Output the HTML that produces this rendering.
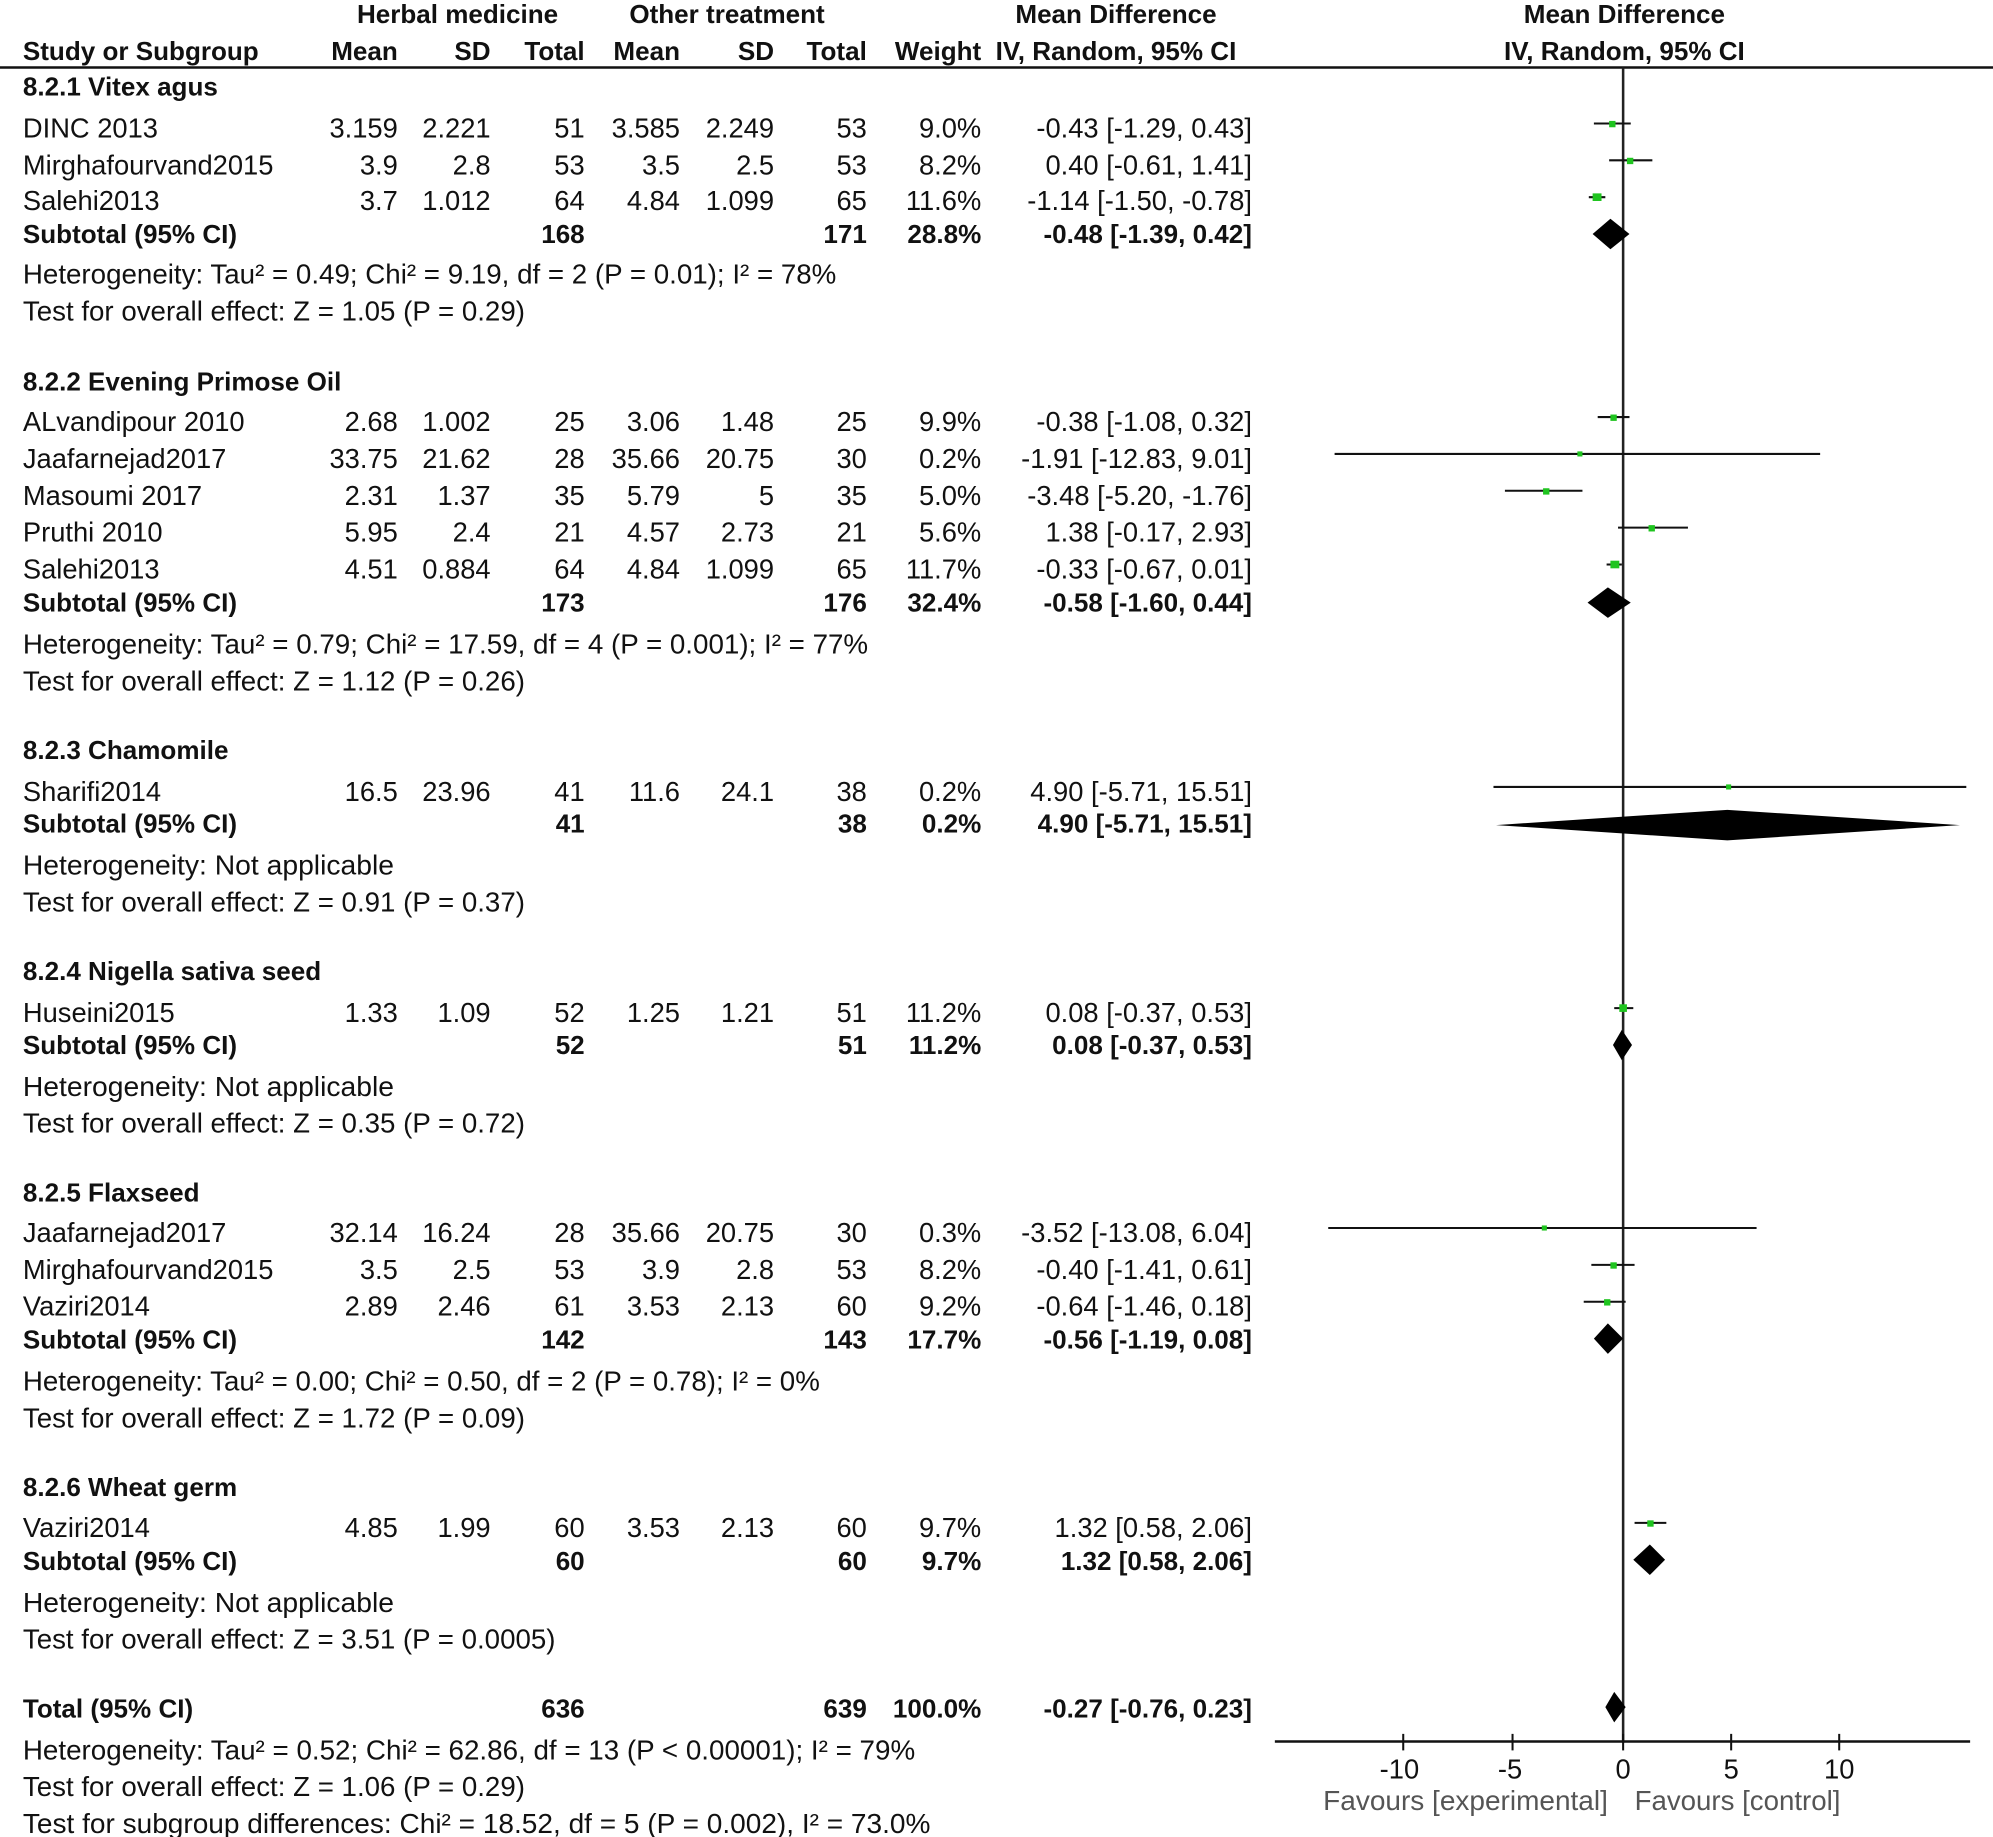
<!DOCTYPE html>
<html><head><meta charset="utf-8"><style>
html,body{margin:0;padding:0;background:#fff}
svg{display:block}
text{font-family:"Liberation Sans",Arial,sans-serif;font-size:21.5px;fill:#111}
.r{text-anchor:end}.c{text-anchor:middle}.b,.b text{font-weight:bold;font-size:20.5px}
.g{fill:#555}
</style></head><body>
<svg width="1993" height="1837" viewBox="0 0 1568 1445" xmlns="http://www.w3.org/2000/svg">
<rect width="1568" height="1445" fill="#fff"/>
<g class="b">
<text x="360" y="18" class="c">Herbal medicine</text>
<text x="572" y="18" class="c">Other treatment</text>
<text x="878" y="18" class="c">Mean Difference</text>
<text x="1278" y="18" class="c">Mean Difference</text>
<text x="18" y="47">Study or Subgroup</text>
<text x="313" y="47" class="r">Mean</text>
<text x="386" y="47" class="r">SD</text>
<text x="460" y="47" class="r">Total</text>
<text x="535" y="47" class="r">Mean</text>
<text x="609" y="47" class="r">SD</text>
<text x="682" y="47" class="r">Total</text>
<text x="772" y="47" class="r">Weight</text>
<text x="878" y="47" class="c">IV, Random, 95% CI</text>
<text x="1278" y="47" class="c">IV, Random, 95% CI</text>
</g>
<line x1="0" y1="53" x2="1568" y2="53" stroke="#111" stroke-width="2"/>

<g>
<text x="18" y="75" class="b">8.2.1 Vitex agus</text>
<text x="18" y="108">DINC 2013</text><text x="313" y="108" class="r">3.159</text><text x="386" y="108" class="r">2.221</text><text x="460" y="108" class="r">51</text><text x="535" y="108" class="r">3.585</text><text x="609" y="108" class="r">2.249</text><text x="682" y="108" class="r">53</text><text x="772" y="108" class="r">9.0%</text><text x="985" y="108" class="r">-0.43 [-1.29, 0.43]</text>
<text x="18" y="137">Mirghafourvand2015</text><text x="313" y="137" class="r">3.9</text><text x="386" y="137" class="r">2.8</text><text x="460" y="137" class="r">53</text><text x="535" y="137" class="r">3.5</text><text x="609" y="137" class="r">2.5</text><text x="682" y="137" class="r">53</text><text x="772" y="137" class="r">8.2%</text><text x="985" y="137" class="r">0.40 [-0.61, 1.41]</text>
<text x="18" y="165">Salehi2013</text><text x="313" y="165" class="r">3.7</text><text x="386" y="165" class="r">1.012</text><text x="460" y="165" class="r">64</text><text x="535" y="165" class="r">4.84</text><text x="609" y="165" class="r">1.099</text><text x="682" y="165" class="r">65</text><text x="772" y="165" class="r">11.6%</text><text x="985" y="165" class="r">-1.14 [-1.50, -0.78]</text>
<g class="b"><text x="18" y="191">Subtotal (95% CI)</text><text x="460" y="191" class="r">168</text><text x="682" y="191" class="r">171</text><text x="772" y="191" class="r">28.8%</text><text x="985" y="191" class="r">-0.48 [-1.39, 0.42]</text></g>
<text x="18" y="223" textLength="640" lengthAdjust="spacingAndGlyphs">Heterogeneity: Tau² = 0.49; Chi² = 9.19, df = 2 (P = 0.01); I² = 78%</text>
<text x="18" y="252" textLength="395" lengthAdjust="spacingAndGlyphs">Test for overall effect: Z = 1.05 (P = 0.29)</text>

<text x="18" y="307" class="b">8.2.2 Evening Primose Oil</text>
<text x="18" y="339">ALvandipour 2010</text><text x="313" y="339" class="r">2.68</text><text x="386" y="339" class="r">1.002</text><text x="460" y="339" class="r">25</text><text x="535" y="339" class="r">3.06</text><text x="609" y="339" class="r">1.48</text><text x="682" y="339" class="r">25</text><text x="772" y="339" class="r">9.9%</text><text x="985" y="339" class="r">-0.38 [-1.08, 0.32]</text>
<text x="18" y="368">Jaafarnejad2017</text><text x="313" y="368" class="r">33.75</text><text x="386" y="368" class="r">21.62</text><text x="460" y="368" class="r">28</text><text x="535" y="368" class="r">35.66</text><text x="609" y="368" class="r">20.75</text><text x="682" y="368" class="r">30</text><text x="772" y="368" class="r">0.2%</text><text x="985" y="368" class="r">-1.91 [-12.83, 9.01]</text>
<text x="18" y="397">Masoumi 2017</text><text x="313" y="397" class="r">2.31</text><text x="386" y="397" class="r">1.37</text><text x="460" y="397" class="r">35</text><text x="535" y="397" class="r">5.79</text><text x="609" y="397" class="r">5</text><text x="682" y="397" class="r">35</text><text x="772" y="397" class="r">5.0%</text><text x="985" y="397" class="r">-3.48 [-5.20, -1.76]</text>
<text x="18" y="426">Pruthi 2010</text><text x="313" y="426" class="r">5.95</text><text x="386" y="426" class="r">2.4</text><text x="460" y="426" class="r">21</text><text x="535" y="426" class="r">4.57</text><text x="609" y="426" class="r">2.73</text><text x="682" y="426" class="r">21</text><text x="772" y="426" class="r">5.6%</text><text x="985" y="426" class="r">1.38 [-0.17, 2.93]</text>
<text x="18" y="455">Salehi2013</text><text x="313" y="455" class="r">4.51</text><text x="386" y="455" class="r">0.884</text><text x="460" y="455" class="r">64</text><text x="535" y="455" class="r">4.84</text><text x="609" y="455" class="r">1.099</text><text x="682" y="455" class="r">65</text><text x="772" y="455" class="r">11.7%</text><text x="985" y="455" class="r">-0.33 [-0.67, 0.01]</text>
<g class="b"><text x="18" y="481">Subtotal (95% CI)</text><text x="460" y="481" class="r">173</text><text x="682" y="481" class="r">176</text><text x="772" y="481" class="r">32.4%</text><text x="985" y="481" class="r">-0.58 [-1.60, 0.44]</text></g>
<text x="18" y="514" textLength="665" lengthAdjust="spacingAndGlyphs">Heterogeneity: Tau² = 0.79; Chi² = 17.59, df = 4 (P = 0.001); I² = 77%</text>
<text x="18" y="543" textLength="395" lengthAdjust="spacingAndGlyphs">Test for overall effect: Z = 1.12 (P = 0.26)</text>

<text x="18" y="597" class="b">8.2.3 Chamomile</text>
<text x="18" y="630">Sharifi2014</text><text x="313" y="630" class="r">16.5</text><text x="386" y="630" class="r">23.96</text><text x="460" y="630" class="r">41</text><text x="535" y="630" class="r">11.6</text><text x="609" y="630" class="r">24.1</text><text x="682" y="630" class="r">38</text><text x="772" y="630" class="r">0.2%</text><text x="985" y="630" class="r">4.90 [-5.71, 15.51]</text>
<g class="b"><text x="18" y="655">Subtotal (95% CI)</text><text x="460" y="655" class="r">41</text><text x="682" y="655" class="r">38</text><text x="772" y="655" class="r">0.2%</text><text x="985" y="655" class="r">4.90 [-5.71, 15.51]</text></g>
<text x="18" y="688" textLength="292" lengthAdjust="spacingAndGlyphs">Heterogeneity: Not applicable</text>
<text x="18" y="717" textLength="395" lengthAdjust="spacingAndGlyphs">Test for overall effect: Z = 0.91 (P = 0.37)</text>

<text x="18" y="771" class="b">8.2.4 Nigella sativa seed</text>
<text x="18" y="804">Huseini2015</text><text x="313" y="804" class="r">1.33</text><text x="386" y="804" class="r">1.09</text><text x="460" y="804" class="r">52</text><text x="535" y="804" class="r">1.25</text><text x="609" y="804" class="r">1.21</text><text x="682" y="804" class="r">51</text><text x="772" y="804" class="r">11.2%</text><text x="985" y="804" class="r">0.08 [-0.37, 0.53]</text>
<g class="b"><text x="18" y="829">Subtotal (95% CI)</text><text x="460" y="829" class="r">52</text><text x="682" y="829" class="r">51</text><text x="772" y="829" class="r">11.2%</text><text x="985" y="829" class="r">0.08 [-0.37, 0.53]</text></g>
<text x="18" y="862" textLength="292" lengthAdjust="spacingAndGlyphs">Heterogeneity: Not applicable</text>
<text x="18" y="891" textLength="395" lengthAdjust="spacingAndGlyphs">Test for overall effect: Z = 0.35 (P = 0.72)</text>

<text x="18" y="945" class="b">8.2.5 Flaxseed</text>
<text x="18" y="977">Jaafarnejad2017</text><text x="313" y="977" class="r">32.14</text><text x="386" y="977" class="r">16.24</text><text x="460" y="977" class="r">28</text><text x="535" y="977" class="r">35.66</text><text x="609" y="977" class="r">20.75</text><text x="682" y="977" class="r">30</text><text x="772" y="977" class="r">0.3%</text><text x="985" y="977" class="r">-3.52 [-13.08, 6.04]</text>
<text x="18" y="1006">Mirghafourvand2015</text><text x="313" y="1006" class="r">3.5</text><text x="386" y="1006" class="r">2.5</text><text x="460" y="1006" class="r">53</text><text x="535" y="1006" class="r">3.9</text><text x="609" y="1006" class="r">2.8</text><text x="682" y="1006" class="r">53</text><text x="772" y="1006" class="r">8.2%</text><text x="985" y="1006" class="r">-0.40 [-1.41, 0.61]</text>
<text x="18" y="1035">Vaziri2014</text><text x="313" y="1035" class="r">2.89</text><text x="386" y="1035" class="r">2.46</text><text x="460" y="1035" class="r">61</text><text x="535" y="1035" class="r">3.53</text><text x="609" y="1035" class="r">2.13</text><text x="682" y="1035" class="r">60</text><text x="772" y="1035" class="r">9.2%</text><text x="985" y="1035" class="r">-0.64 [-1.46, 0.18]</text>
<g class="b"><text x="18" y="1061">Subtotal (95% CI)</text><text x="460" y="1061" class="r">142</text><text x="682" y="1061" class="r">143</text><text x="772" y="1061" class="r">17.7%</text><text x="985" y="1061" class="r">-0.56 [-1.19, 0.08]</text></g>
<text x="18" y="1094" textLength="627" lengthAdjust="spacingAndGlyphs">Heterogeneity: Tau² = 0.00; Chi² = 0.50, df = 2 (P = 0.78); I² = 0%</text>
<text x="18" y="1123" textLength="395" lengthAdjust="spacingAndGlyphs">Test for overall effect: Z = 1.72 (P = 0.09)</text>

<text x="18" y="1177" class="b">8.2.6 Wheat germ</text>
<text x="18" y="1209">Vaziri2014</text><text x="313" y="1209" class="r">4.85</text><text x="386" y="1209" class="r">1.99</text><text x="460" y="1209" class="r">60</text><text x="535" y="1209" class="r">3.53</text><text x="609" y="1209" class="r">2.13</text><text x="682" y="1209" class="r">60</text><text x="772" y="1209" class="r">9.7%</text><text x="985" y="1209" class="r">1.32 [0.58, 2.06]</text>
<g class="b"><text x="18" y="1235">Subtotal (95% CI)</text><text x="460" y="1235" class="r">60</text><text x="682" y="1235" class="r">60</text><text x="772" y="1235" class="r">9.7%</text><text x="985" y="1235" class="r">1.32 [0.58, 2.06]</text></g>
<text x="18" y="1268" textLength="292" lengthAdjust="spacingAndGlyphs">Heterogeneity: Not applicable</text>
<text x="18" y="1297" textLength="419" lengthAdjust="spacingAndGlyphs">Test for overall effect: Z = 3.51 (P = 0.0005)</text>

<g class="b"><text x="18" y="1351">Total (95% CI)</text><text x="460" y="1351" class="r">636</text><text x="682" y="1351" class="r">639</text><text x="772" y="1351" class="r">100.0%</text><text x="985" y="1351" class="r">-0.27 [-0.76, 0.23]</text></g>
<text x="18" y="1384" textLength="702" lengthAdjust="spacingAndGlyphs">Heterogeneity: Tau² = 0.52; Chi² = 62.86, df = 13 (P &lt; 0.00001); I² = 79%</text>
<text x="18" y="1413" textLength="395" lengthAdjust="spacingAndGlyphs">Test for overall effect: Z = 1.06 (P = 0.29)</text>
<text x="18" y="1442" textLength="714" lengthAdjust="spacingAndGlyphs">Test for subgroup differences: Chi² = 18.52, df = 5 (P = 0.002), I² = 73.0%</text>
</g>

<line x1="1277" y1="53" x2="1277" y2="1371" stroke="#222" stroke-width="2"/>
<g stroke="#111" stroke-width="1.6">
<line x1="1254" y1="97" x2="1283" y2="97"/>
<line x1="1266" y1="126" x2="1300" y2="126"/>
<line x1="1250" y1="155" x2="1263" y2="155"/>
<line x1="1257" y1="328" x2="1282" y2="328"/>
<line x1="1050" y1="357" x2="1432" y2="357"/>
<line x1="1184" y1="386" x2="1245" y2="386"/>
<line x1="1273" y1="415" x2="1328" y2="415"/>
<line x1="1264" y1="444" x2="1276" y2="444"/>
<line x1="1175" y1="619" x2="1547" y2="619"/>
<line x1="1270" y1="793" x2="1285" y2="793"/>
<line x1="1045" y1="966" x2="1382" y2="966"/>
<line x1="1252" y1="995" x2="1286" y2="995"/>
<line x1="1246" y1="1024" x2="1279" y2="1024"/>
<line x1="1286" y1="1198" x2="1311" y2="1198"/>
</g>
<g fill="#1fc41f">
<rect x="1266" y="95" width="5" height="5"/>
<rect x="1280" y="124" width="5" height="5"/>
<rect x="1253" y="152" width="7" height="6"/>
<rect x="1267" y="326" width="5" height="5"/>
<rect x="1241" y="355" width="4" height="4"/>
<rect x="1214" y="384" width="5" height="5"/>
<rect x="1297" y="413" width="5" height="5"/>
<rect x="1267" y="441" width="7" height="6"/>
<rect x="1358" y="617" width="4" height="4"/>
<rect x="1274" y="790" width="6" height="6"/>
<rect x="1213" y="964" width="4" height="4"/>
<rect x="1267" y="993" width="5" height="5"/>
<rect x="1262" y="1022" width="5" height="5"/>
<rect x="1296" y="1196" width="5" height="5"/>
</g>
<g fill="#000">
<polygon points="1253,184 1267,172 1282,184 1267,196"/>
<polygon points="1249,474 1265,462 1283,474 1265,486"/>
<polygon points="1177,649 1359,637 1542,649 1359,661"/>
<polygon points="1269,822 1276,810 1284,822 1276,834"/>
<polygon points="1254,1053 1265,1041 1277,1053 1265,1065"/>
<polygon points="1285,1227 1298,1215 1310,1227 1298,1239"/>
<polygon points="1263,1343 1270,1331 1279,1343 1270,1355"/>
</g>
<line x1="1003" y1="1370" x2="1550" y2="1370" stroke="#111" stroke-width="2"/>
<g stroke="#111" stroke-width="1.6">
<line x1="1104" y1="1364" x2="1104" y2="1377"/>
<line x1="1190" y1="1364" x2="1190" y2="1377"/>
<line x1="1277" y1="1364" x2="1277" y2="1377"/>
<line x1="1362" y1="1364" x2="1362" y2="1377"/>
<line x1="1447" y1="1364" x2="1447" y2="1377"/>
</g>
<text x="1101" y="1399" class="c">-10</text>
<text x="1188" y="1399" class="c">-5</text>
<text x="1277" y="1399" class="c">0</text>
<text x="1362" y="1399" class="c">5</text>
<text x="1447" y="1399" class="c">10</text>
<text x="1153" y="1424" class="c g" textLength="224" lengthAdjust="spacingAndGlyphs">Favours [experimental]</text>
<text x="1367" y="1424" class="c g" textLength="162" lengthAdjust="spacingAndGlyphs">Favours [control]</text>
</svg>
</body></html>
